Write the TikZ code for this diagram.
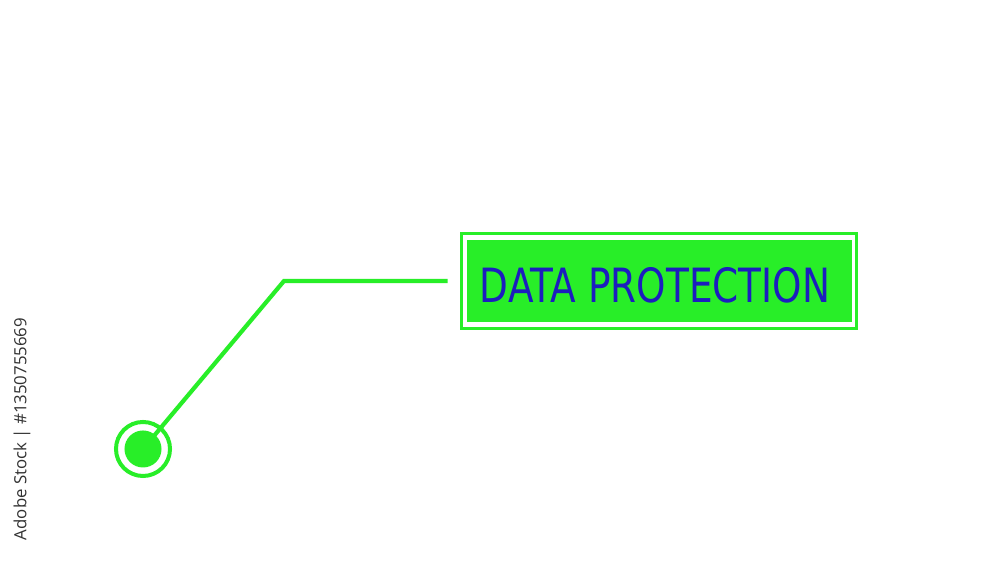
\documentclass[tikz,border=0pt]{standalone}
\usepackage{fontspec}
\setmainfont{DejaVu Sans}
\newfontfamily\wmfont{Open Sans}
\usetikzlibrary{backgrounds}
\definecolor{brightgreen}{RGB}{40,238,40}
\definecolor{textblue}{RGB}{28,30,190}
\definecolor{wmgray}{RGB}{50,50,50}
\begin{document}
\begin{tikzpicture}[x=0.01cm,y=0.01cm,
  gline/.style={draw=brightgreen, line width=0.042cm},
  frame/.style={draw=brightgreen, line width=0.036cm, minimum width=3.95cm, minimum height=0.95cm, inner sep=0pt},
  fillbox/.style={fill=brightgreen, minimum width=3.85cm, minimum height=0.82cm, inner sep=0pt},
  dotnode/.style={circle, fill=brightgreen, minimum size=0.37cm, inner sep=0pt},
  ringnode/.style={circle, draw=brightgreen, line width=0.04cm, minimum size=0.54cm, inner sep=0pt},
  wm/.style={rotate=90, text=wmgray, inner sep=0pt}]
\useasboundingbox (0,0) rectangle (1000,562);
% label box
\node[frame] (frame) at (659,281) {};
\node[fillbox] (fillbox) at (659.5,281) {};
\node[text=textblue, inner sep=0pt] (label) at (655,277) {\resizebox{3.5cm}{0.35cm}{DATA PROTECTION}};
% marker
\node[dotnode] (dot) at (143,113) {};
\node[ringnode] (ring) at (143,113) {};
\coordinate (corner) at (284,281);
\coordinate (lineend) at ([xshift=-0.12cm]frame.west);
\begin{pgfonlayer}{background}
\fill[white] (0,0) rectangle (1000,562);
\draw[gline] (dot.center) -- (corner) -- (lineend);
\end{pgfonlayer}
% watermark
\node[wm] (wmark) at (22,133) {\resizebox{2.22cm}{!}{\wmfont Adobe Stock | \#1350755669}};
\end{tikzpicture}
\end{document}
